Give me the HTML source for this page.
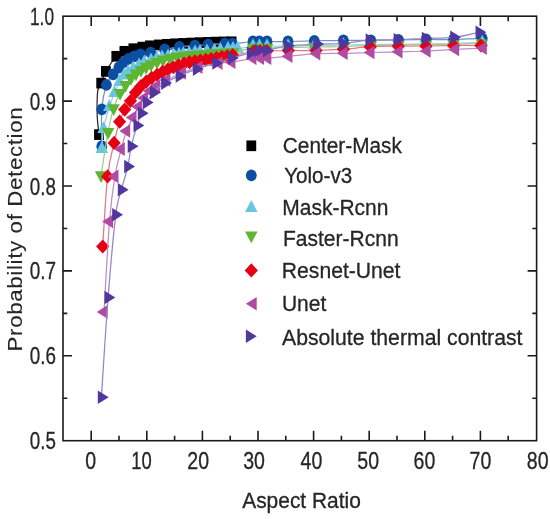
<!DOCTYPE html>
<html lang="en"><head><meta charset="utf-8"><title>Probability of Detection vs Aspect Ratio</title>
<style>html,body{margin:0;padding:0;background:#fff}svg{display:block;filter:blur(0.35px)}</style></head>
<body>
<svg width="550" height="519" viewBox="0 0 550 519" font-family="'Liberation Sans', Arial, sans-serif" fill="#222">
<rect width="550" height="519" fill="#fff"/>
<g id="s-black">
<path d="M99,134.6C98.72,131.83 97.62,123.27 97.3,118C96.98,112.73 97,107.67 97.1,103C97.2,98.33 97.22,93.32 97.9,90C98.58,86.68 99.87,86.2 101.2,83.1C102.53,80 103.38,75.87 105.9,71.4C108.42,66.93 113.22,59.65 116.3,56.3C119.38,52.95 121.55,52.57 124.4,51.3C127.25,50.03 130.42,49.4 133.4,48.7C136.38,48 139.55,47.58 142.3,47.1C145.05,46.62 147.13,46.17 149.9,45.8C152.67,45.43 156.05,45.15 158.9,44.9C161.75,44.65 164.28,44.48 167,44.29C169.72,44.11 172.47,43.94 175.2,43.79C177.93,43.64 180.67,43.52 183.4,43.39C186.13,43.26 188.87,43.13 191.6,43.01C194.33,42.89 197.07,42.77 199.8,42.66C202.53,42.55 205.3,42.44 208,42.35C210.7,42.25 213.33,42.17 216,42.1C218.67,42.02 221.4,41.96 224,41.91C226.6,41.86 230.33,41.82 231.6,41.8" fill="none" stroke="#2a2a2a" stroke-width="1.25"/>
<rect x="94.1" y="129.26" width="9.8" height="10.68" fill="#000000"/>
<rect x="96.3" y="77.76" width="9.8" height="10.68" fill="#000000"/>
<rect x="101" y="66.06" width="9.8" height="10.68" fill="#000000"/>
<rect x="111.4" y="50.96" width="9.8" height="10.68" fill="#000000"/>
<rect x="119.5" y="45.96" width="9.8" height="10.68" fill="#000000"/>
<rect x="128.5" y="43.36" width="9.8" height="10.68" fill="#000000"/>
<rect x="137.4" y="41.76" width="9.8" height="10.68" fill="#000000"/>
<rect x="145" y="40.46" width="9.8" height="10.68" fill="#000000"/>
<rect x="154" y="39.56" width="9.8" height="10.68" fill="#000000"/>
<rect x="162.1" y="38.95" width="9.8" height="10.68" fill="#000000"/>
<rect x="170.3" y="38.45" width="9.8" height="10.68" fill="#000000"/>
<rect x="178.5" y="38.05" width="9.8" height="10.68" fill="#000000"/>
<rect x="186.7" y="37.67" width="9.8" height="10.68" fill="#000000"/>
<rect x="194.9" y="37.31" width="9.8" height="10.68" fill="#000000"/>
<rect x="203.1" y="37.01" width="9.8" height="10.68" fill="#000000"/>
<rect x="211.1" y="36.76" width="9.8" height="10.68" fill="#000000"/>
<rect x="219.1" y="36.57" width="9.8" height="10.68" fill="#000000"/>
<rect x="226.7" y="36.46" width="9.8" height="10.68" fill="#000000"/>
</g>
<g id="s-blue">
<path d="M101.8,146.2C101.8,140.05 101.03,119.52 101.8,109.3C102.57,99.08 104.52,90.73 106.4,84.9C108.28,79.07 111.02,77.2 113.1,74.3C115.18,71.4 117.13,69.52 118.9,67.5C120.67,65.48 122.1,63.63 123.7,62.2C125.3,60.77 126.73,59.87 128.5,58.9C130.27,57.93 132.3,57.13 134.3,56.4C136.3,55.67 137.77,55.13 140.5,54.5C143.23,53.87 146.67,53.45 150.7,52.6C154.73,51.75 159.9,50.37 164.7,49.4C169.5,48.43 174.48,47.43 179.5,46.8C184.52,46.17 190.02,45.97 194.8,45.6C199.58,45.23 203.22,44.92 208.2,44.6C213.18,44.28 220.67,43.85 224.7,43.7C228.73,43.55 227.68,44.07 232.4,43.7C237.12,43.33 248.5,41.87 253,41.5C257.5,41.13 257.07,41.5 259.4,41.5C261.73,41.5 262.23,41.5 267,41.5C271.77,41.5 280.12,41.6 288,41.5C295.88,41.4 305.07,41.1 314.3,40.9C323.53,40.7 333.98,40.38 343.4,40.3C352.82,40.22 361.62,40.45 370.8,40.4C379.98,40.35 389.3,40.15 398.5,40C407.7,39.85 416.83,39.58 426,39.5C435.17,39.42 444.13,39.67 453.5,39.5C462.87,39.33 477.42,38.67 482.2,38.5" fill="none" stroke="#7390c8" stroke-width="1.25"/>
<ellipse cx="101.8" cy="146.2" rx="5.4" ry="5.89" fill="#0b4ea2"/>
<ellipse cx="101.8" cy="109.3" rx="5.4" ry="5.89" fill="#0b4ea2"/>
<ellipse cx="106.4" cy="84.9" rx="5.4" ry="5.89" fill="#0b4ea2"/>
<ellipse cx="113.1" cy="74.3" rx="5.4" ry="5.89" fill="#0b4ea2"/>
<ellipse cx="118.9" cy="67.5" rx="5.4" ry="5.89" fill="#0b4ea2"/>
<ellipse cx="123.7" cy="62.2" rx="5.4" ry="5.89" fill="#0b4ea2"/>
<ellipse cx="128.5" cy="58.9" rx="5.4" ry="5.89" fill="#0b4ea2"/>
<ellipse cx="134.3" cy="56.4" rx="5.4" ry="5.89" fill="#0b4ea2"/>
<ellipse cx="140.5" cy="54.5" rx="5.4" ry="5.89" fill="#0b4ea2"/>
<ellipse cx="150.7" cy="52.6" rx="5.4" ry="5.89" fill="#0b4ea2"/>
<ellipse cx="164.7" cy="49.4" rx="5.4" ry="5.89" fill="#0b4ea2"/>
<ellipse cx="179.5" cy="46.8" rx="5.4" ry="5.89" fill="#0b4ea2"/>
<ellipse cx="194.8" cy="45.6" rx="5.4" ry="5.89" fill="#0b4ea2"/>
<ellipse cx="208.2" cy="44.6" rx="5.4" ry="5.89" fill="#0b4ea2"/>
<ellipse cx="224.7" cy="43.7" rx="5.4" ry="5.89" fill="#0b4ea2"/>
<ellipse cx="232.4" cy="43.7" rx="5.4" ry="5.89" fill="#0b4ea2"/>
<ellipse cx="253" cy="41.5" rx="5.4" ry="5.89" fill="#0b4ea2"/>
<ellipse cx="259.4" cy="41.5" rx="5.4" ry="5.89" fill="#0b4ea2"/>
<ellipse cx="267" cy="41.5" rx="5.4" ry="5.89" fill="#0b4ea2"/>
<ellipse cx="288" cy="41.5" rx="5.4" ry="5.89" fill="#0b4ea2"/>
<ellipse cx="314.3" cy="40.9" rx="5.4" ry="5.89" fill="#0b4ea2"/>
<ellipse cx="343.4" cy="40.3" rx="5.4" ry="5.89" fill="#0b4ea2"/>
<ellipse cx="370.8" cy="40.4" rx="5.4" ry="5.89" fill="#0b4ea2"/>
<ellipse cx="398.5" cy="40" rx="5.4" ry="5.89" fill="#0b4ea2"/>
<ellipse cx="426" cy="39.5" rx="5.4" ry="5.89" fill="#0b4ea2"/>
<ellipse cx="453.5" cy="39.5" rx="5.4" ry="5.89" fill="#0b4ea2"/>
<ellipse cx="482.2" cy="38.5" rx="5.4" ry="5.89" fill="#0b4ea2"/>
</g>
<g id="s-cyan">
<path d="M101.8,149C102.08,145.68 102.25,136.1 103.5,129.1C104.75,122.1 107.47,113.02 109.3,107C111.13,100.98 112.8,97.17 114.5,93C116.2,88.83 117.92,84.92 119.5,82C121.08,79.08 122.6,77.13 124,75.5C125.4,73.87 126.37,73.4 127.9,72.2C129.43,71 131.35,69.43 133.2,68.3C135.05,67.17 137.15,66.4 139,65.4C140.85,64.4 142.3,63.13 144.3,62.3C146.3,61.47 148.92,61 151,60.4C153.08,59.8 154.95,59.22 156.8,58.7C158.65,58.18 160.23,57.7 162.1,57.3C163.97,56.9 166.08,56.62 168,56.32C169.92,56.02 171.77,55.8 173.6,55.5C175.43,55.2 177.37,54.81 179,54.53C180.63,54.25 181.73,54.04 183.4,53.8C185.07,53.56 187.07,53.31 189,53.08C190.93,52.85 193.17,52.61 195,52.41C196.83,52.21 198,52.09 200,51.9C202,51.71 204.58,51.5 207,51.28C209.42,51.06 212.28,50.85 214.5,50.6C216.72,50.35 218.05,50.06 220.3,49.78C222.55,49.5 225.88,49.07 228,48.9C230.12,48.73 231.42,48.79 233,48.75C234.58,48.72 234.17,49.13 237.5,48.7C240.83,48.27 249.35,46.62 253,46.2C256.65,45.78 257.07,46.2 259.4,46.2C261.73,46.2 262.23,46.2 267,46.2C271.77,46.2 280.12,46.3 288,46.2C295.88,46.1 305.07,45.8 314.3,45.6C323.53,45.4 333.98,45.17 343.4,45C352.82,44.83 361.62,44.72 370.8,44.6C379.98,44.48 389.3,44.4 398.5,44.3C407.7,44.2 416.83,44.12 426,44C435.17,43.88 444.13,43.85 453.5,43.6C462.87,43.35 477.42,42.68 482.2,42.5" fill="none" stroke="#9fd0e2" stroke-width="1.25"/>
<polygon points="101.8,141.13 95.55,152.93 108.05,152.93" fill="#6cc5de"/>
<polygon points="103.5,121.23 97.25,133.03 109.75,133.03" fill="#6cc5de"/>
<polygon points="109.3,99.13 103.05,110.93 115.55,110.93" fill="#6cc5de"/>
<polygon points="114.5,85.13 108.25,96.93 120.75,96.93" fill="#6cc5de"/>
<polygon points="119.5,74.13 113.25,85.93 125.75,85.93" fill="#6cc5de"/>
<polygon points="124,67.63 117.75,79.43 130.25,79.43" fill="#6cc5de"/>
<polygon points="127.9,64.33 121.65,76.13 134.15,76.13" fill="#6cc5de"/>
<polygon points="133.2,60.43 126.95,72.23 139.45,72.23" fill="#6cc5de"/>
<polygon points="139,57.53 132.75,69.33 145.25,69.33" fill="#6cc5de"/>
<polygon points="144.3,54.43 138.05,66.23 150.55,66.23" fill="#6cc5de"/>
<polygon points="151,52.53 144.75,64.33 157.25,64.33" fill="#6cc5de"/>
<polygon points="156.8,50.83 150.55,62.63 163.05,62.63" fill="#6cc5de"/>
<polygon points="162.1,49.43 155.85,61.23 168.35,61.23" fill="#6cc5de"/>
<polygon points="168,48.46 161.75,60.26 174.25,60.26" fill="#6cc5de"/>
<polygon points="173.6,47.63 167.35,59.43 179.85,59.43" fill="#6cc5de"/>
<polygon points="179,46.66 172.75,58.46 185.25,58.46" fill="#6cc5de"/>
<polygon points="183.4,45.93 177.15,57.73 189.65,57.73" fill="#6cc5de"/>
<polygon points="189,45.21 182.75,57.01 195.25,57.01" fill="#6cc5de"/>
<polygon points="195,44.54 188.75,56.34 201.25,56.34" fill="#6cc5de"/>
<polygon points="200,44.03 193.75,55.83 206.25,55.83" fill="#6cc5de"/>
<polygon points="207,43.41 200.75,55.21 213.25,55.21" fill="#6cc5de"/>
<polygon points="214.5,42.73 208.25,54.53 220.75,54.53" fill="#6cc5de"/>
<polygon points="220.3,41.91 214.05,53.71 226.55,53.71" fill="#6cc5de"/>
<polygon points="228,41.03 221.75,52.83 234.25,52.83" fill="#6cc5de"/>
<polygon points="233,40.89 226.75,52.69 239.25,52.69" fill="#6cc5de"/>
<polygon points="237.5,40.83 231.25,52.63 243.75,52.63" fill="#6cc5de"/>
<polygon points="253,38.33 246.75,50.13 259.25,50.13" fill="#6cc5de"/>
<polygon points="259.4,38.33 253.15,50.13 265.65,50.13" fill="#6cc5de"/>
<polygon points="267,38.33 260.75,50.13 273.25,50.13" fill="#6cc5de"/>
<polygon points="288,38.33 281.75,50.13 294.25,50.13" fill="#6cc5de"/>
<polygon points="314.3,37.73 308.05,49.53 320.55,49.53" fill="#6cc5de"/>
<polygon points="343.4,37.13 337.15,48.93 349.65,48.93" fill="#6cc5de"/>
<polygon points="370.8,36.73 364.55,48.53 377.05,48.53" fill="#6cc5de"/>
<polygon points="398.5,36.43 392.25,48.23 404.75,48.23" fill="#6cc5de"/>
<polygon points="426,36.13 419.75,47.93 432.25,47.93" fill="#6cc5de"/>
<polygon points="453.5,35.73 447.25,47.53 459.75,47.53" fill="#6cc5de"/>
<polygon points="482.2,34.63 475.95,46.43 488.45,46.43" fill="#6cc5de"/>
</g>
<g id="s-green">
<path d="M101.1,175.1C102.27,167.92 106.02,143.17 108.1,132C110.18,120.83 111.6,114.6 113.6,108.1C115.6,101.6 118.12,96.85 120.1,93C122.08,89.15 123.68,87.5 125.5,85C127.32,82.5 129.25,79.93 131,78C132.75,76.07 134.33,74.75 136,73.4C137.67,72.04 139.33,70.96 141,69.88C142.67,68.79 144.33,67.79 146,66.87C147.67,65.94 149.17,65.17 151,64.33C152.83,63.49 155,62.59 157,61.83C159,61.07 160.83,60.41 163,59.77C165.17,59.13 167.67,58.47 170,57.96C172.33,57.45 174.67,57.06 177,56.7C179.33,56.33 181.67,56.05 184,55.76C186.33,55.48 188.67,55.23 191,55C193.33,54.77 195.67,54.56 198,54.36C200.33,54.16 202.67,53.99 205,53.81C207.33,53.63 209.67,53.46 212,53.3C214.33,53.14 216.67,52.98 219,52.85C221.33,52.71 223.67,52.58 226,52.47C228.33,52.37 228.5,52.98 233,52.2C237.5,51.42 248.6,48.53 253,47.8C257.4,47.07 257.07,47.8 259.4,47.8C261.73,47.8 262.23,47.83 267,47.8C271.77,47.77 280.12,47.73 288,47.6C295.88,47.47 305.07,47.18 314.3,47C323.53,46.82 333.98,46.75 343.4,46.5C352.82,46.25 361.62,45.75 370.8,45.5C379.98,45.25 389.3,45.15 398.5,45C407.7,44.85 416.83,44.73 426,44.6C435.17,44.47 444.2,44.38 453.5,44.2C462.8,44.02 477.08,43.62 481.8,43.5" fill="none" stroke="#9ccf86" stroke-width="1.25"/>
<polygon points="101.1,182.97 94.85,171.17 107.35,171.17" fill="#5db531"/>
<polygon points="108.1,139.87 101.85,128.07 114.35,128.07" fill="#5db531"/>
<polygon points="113.6,115.97 107.35,104.17 119.85,104.17" fill="#5db531"/>
<polygon points="120.1,100.87 113.85,89.07 126.35,89.07" fill="#5db531"/>
<polygon points="125.5,92.87 119.25,81.07 131.75,81.07" fill="#5db531"/>
<polygon points="131,85.87 124.75,74.07 137.25,74.07" fill="#5db531"/>
<polygon points="136,81.26 129.75,69.47 142.25,69.47" fill="#5db531"/>
<polygon points="141,77.74 134.75,65.94 147.25,65.94" fill="#5db531"/>
<polygon points="146,74.74 139.75,62.94 152.25,62.94" fill="#5db531"/>
<polygon points="151,72.19 144.75,60.39 157.25,60.39" fill="#5db531"/>
<polygon points="157,69.69 150.75,57.9 163.25,57.9" fill="#5db531"/>
<polygon points="163,67.64 156.75,55.84 169.25,55.84" fill="#5db531"/>
<polygon points="170,65.83 163.75,54.03 176.25,54.03" fill="#5db531"/>
<polygon points="177,64.56 170.75,52.76 183.25,52.76" fill="#5db531"/>
<polygon points="184,63.63 177.75,51.83 190.25,51.83" fill="#5db531"/>
<polygon points="191,62.86 184.75,51.07 197.25,51.07" fill="#5db531"/>
<polygon points="198,62.23 191.75,50.43 204.25,50.43" fill="#5db531"/>
<polygon points="205,61.68 198.75,49.88 211.25,49.88" fill="#5db531"/>
<polygon points="212,61.16 205.75,49.37 218.25,49.37" fill="#5db531"/>
<polygon points="219,60.71 212.75,48.91 225.25,48.91" fill="#5db531"/>
<polygon points="226,60.34 219.75,48.54 232.25,48.54" fill="#5db531"/>
<polygon points="233,60.07 226.75,48.27 239.25,48.27" fill="#5db531"/>
<polygon points="253,55.67 246.75,43.87 259.25,43.87" fill="#5db531"/>
<polygon points="259.4,55.67 253.15,43.87 265.65,43.87" fill="#5db531"/>
<polygon points="267,55.67 260.75,43.87 273.25,43.87" fill="#5db531"/>
<polygon points="288,55.47 281.75,43.67 294.25,43.67" fill="#5db531"/>
<polygon points="314.3,54.87 308.05,43.07 320.55,43.07" fill="#5db531"/>
<polygon points="343.4,54.37 337.15,42.57 349.65,42.57" fill="#5db531"/>
<polygon points="370.8,53.37 364.55,41.57 377.05,41.57" fill="#5db531"/>
<polygon points="398.5,52.87 392.25,41.07 404.75,41.07" fill="#5db531"/>
<polygon points="426,52.47 419.75,40.67 432.25,40.67" fill="#5db531"/>
<polygon points="453.5,52.07 447.25,40.27 459.75,40.27" fill="#5db531"/>
<polygon points="481.8,51.37 475.55,39.57 488.05,39.57" fill="#5db531"/>
</g>
<g id="s-red">
<path d="M102.7,246.5C103.52,234.82 105.7,193.67 107.6,176.4C109.5,159.13 112.1,152.02 114.1,142.9C116.1,133.78 117.83,127.25 119.6,121.7C121.37,116.15 122.88,113.05 124.7,109.6C126.52,106.15 128.7,103.86 130.5,101C132.3,98.14 133.77,94.93 135.5,92.45C137.23,89.97 139.1,87.95 140.9,86.14C142.7,84.32 144.5,82.95 146.3,81.56C148.1,80.18 149.9,78.98 151.7,77.84C153.5,76.71 155.3,75.74 157.1,74.76C158.9,73.78 160.7,72.85 162.5,71.96C164.3,71.07 166.1,70.21 167.9,69.43C169.7,68.64 171.5,67.93 173.3,67.25C175.1,66.57 176.9,65.96 178.7,65.33C180.5,64.71 182.3,64.02 184.1,63.49C185.9,62.96 187.7,62.51 189.5,62.15C191.3,61.78 193.1,61.55 194.9,61.3C196.7,61.05 198.5,60.86 200.3,60.63C202.1,60.41 203.9,60.21 205.7,59.95C207.5,59.69 209.3,59.38 211.1,59.07C212.9,58.75 214.7,58.39 216.5,58.06C218.3,57.72 220.1,57.39 221.9,57.07C223.7,56.75 225.5,56.44 227.3,56.13C229.1,55.82 228.32,55.99 232.7,55.22C237.08,54.44 249.05,52.15 253.6,51.5C258.15,50.85 257.77,51.38 260,51.3C262.23,51.22 262.28,51.13 267,51C271.72,50.87 280.13,50.58 288.3,50.5C296.47,50.42 306.82,50.72 316,50.5C325.18,50.28 334.37,49.83 343.4,49.2C352.43,48.57 361.07,47.22 370.2,46.7C379.33,46.18 388.9,46.22 398.2,46.1C407.5,45.98 416.78,46.1 426,46C435.22,45.9 444.35,45.58 453.5,45.5C462.65,45.42 476.33,45.5 480.9,45.5" fill="none" stroke="#e27882" stroke-width="1.25"/>
<polygon points="96.1,246.5 102.7,239.4 109.3,246.5 102.7,253.6" fill="#e60012"/>
<polygon points="101,176.4 107.6,169.3 114.2,176.4 107.6,183.5" fill="#e60012"/>
<polygon points="107.5,142.9 114.1,135.8 120.7,142.9 114.1,150" fill="#e60012"/>
<polygon points="113,121.7 119.6,114.6 126.2,121.7 119.6,128.8" fill="#e60012"/>
<polygon points="118.1,109.6 124.7,102.5 131.3,109.6 124.7,116.7" fill="#e60012"/>
<polygon points="123.9,101 130.5,93.9 137.1,101 130.5,108.1" fill="#e60012"/>
<polygon points="128.9,92.45 135.5,85.35 142.1,92.45 135.5,99.55" fill="#e60012"/>
<polygon points="134.3,86.14 140.9,79.04 147.5,86.14 140.9,93.24" fill="#e60012"/>
<polygon points="139.7,81.56 146.3,74.46 152.9,81.56 146.3,88.66" fill="#e60012"/>
<polygon points="145.1,77.84 151.7,70.74 158.3,77.84 151.7,84.94" fill="#e60012"/>
<polygon points="150.5,74.76 157.1,67.66 163.7,74.76 157.1,81.86" fill="#e60012"/>
<polygon points="155.9,71.96 162.5,64.86 169.1,71.96 162.5,79.06" fill="#e60012"/>
<polygon points="161.3,69.43 167.9,62.33 174.5,69.43 167.9,76.53" fill="#e60012"/>
<polygon points="166.7,67.25 173.3,60.15 179.9,67.25 173.3,74.35" fill="#e60012"/>
<polygon points="172.1,65.33 178.7,58.23 185.3,65.33 178.7,72.43" fill="#e60012"/>
<polygon points="177.5,63.49 184.1,56.39 190.7,63.49 184.1,70.59" fill="#e60012"/>
<polygon points="182.9,62.15 189.5,55.05 196.1,62.15 189.5,69.25" fill="#e60012"/>
<polygon points="188.3,61.3 194.9,54.2 201.5,61.3 194.9,68.4" fill="#e60012"/>
<polygon points="193.7,60.63 200.3,53.53 206.9,60.63 200.3,67.73" fill="#e60012"/>
<polygon points="199.1,59.95 205.7,52.85 212.3,59.95 205.7,67.05" fill="#e60012"/>
<polygon points="204.5,59.07 211.1,51.97 217.7,59.07 211.1,66.17" fill="#e60012"/>
<polygon points="209.9,58.06 216.5,50.96 223.1,58.06 216.5,65.16" fill="#e60012"/>
<polygon points="215.3,57.07 221.9,49.97 228.5,57.07 221.9,64.17" fill="#e60012"/>
<polygon points="220.7,56.13 227.3,49.03 233.9,56.13 227.3,63.23" fill="#e60012"/>
<polygon points="226.1,55.22 232.7,48.12 239.3,55.22 232.7,62.32" fill="#e60012"/>
<polygon points="247,51.5 253.6,44.4 260.2,51.5 253.6,58.6" fill="#e60012"/>
<polygon points="253.4,51.3 260,44.2 266.6,51.3 260,58.4" fill="#e60012"/>
<polygon points="260.4,51 267,43.9 273.6,51 267,58.1" fill="#e60012"/>
<polygon points="281.7,50.5 288.3,43.4 294.9,50.5 288.3,57.6" fill="#e60012"/>
<polygon points="309.4,50.5 316,43.4 322.6,50.5 316,57.6" fill="#e60012"/>
<polygon points="336.8,49.2 343.4,42.1 350,49.2 343.4,56.3" fill="#e60012"/>
<polygon points="363.6,46.7 370.2,39.6 376.8,46.7 370.2,53.8" fill="#e60012"/>
<polygon points="391.6,46.1 398.2,39 404.8,46.1 398.2,53.2" fill="#e60012"/>
<polygon points="419.4,46 426,38.9 432.6,46 426,53.1" fill="#e60012"/>
<polygon points="446.9,45.5 453.5,38.4 460.1,45.5 453.5,52.6" fill="#e60012"/>
<polygon points="474.3,45.5 480.9,38.4 487.5,45.5 480.9,52.6" fill="#e60012"/>
</g>
<g id="s-magenta">
<path d="M104,311.9C104.92,296.82 107.68,243.98 109.5,221.4C111.32,198.82 112.95,188.45 114.9,176.4C116.85,164.35 119.25,156.67 121.2,149.1C123.15,141.53 124.65,136.28 126.6,131C128.55,125.72 130.92,121.43 132.9,117.4C134.88,113.37 136.6,110.02 138.5,106.8C140.4,103.58 142.38,100.73 144.3,98.1C146.22,95.47 147.95,93.02 150,91C152.05,88.98 153.82,87.83 156.6,86C159.38,84.17 162.42,82.17 166.7,80C170.98,77.83 176.93,75.13 182.3,73C187.67,70.87 192.8,68.85 198.9,67.2C205,65.55 213.42,63.93 218.9,63.1C224.38,62.27 226.15,63 231.8,62.2C237.45,61.4 248.03,58.95 252.8,58.3C257.57,57.65 257.92,58.3 260.4,58.3C262.88,58.3 262.97,58.65 267.7,58.3C272.43,57.95 280.63,56.98 288.8,56.2C296.97,55.42 307.5,54.08 316.7,53.6C325.9,53.12 334.97,53.48 344,53.3C353.03,53.12 361.75,52.75 370.9,52.5C380.05,52.25 389.55,52.05 398.9,51.8C408.25,51.55 417.57,51.4 427,51C436.43,50.6 446.13,49.88 455.5,49.4C464.87,48.92 478.58,48.32 483.2,48.1" fill="none" stroke="#bf8cc6" stroke-width="1.25"/>
<polygon points="96.78,311.9 107.61,305.09 107.61,318.71" fill="#b04aa3"/>
<polygon points="102.28,221.4 113.11,214.59 113.11,228.21" fill="#b04aa3"/>
<polygon points="107.68,176.4 118.51,169.59 118.51,183.21" fill="#b04aa3"/>
<polygon points="113.98,149.1 124.81,142.29 124.81,155.91" fill="#b04aa3"/>
<polygon points="119.38,131 130.21,124.19 130.21,137.81" fill="#b04aa3"/>
<polygon points="125.68,117.4 136.51,110.59 136.51,124.21" fill="#b04aa3"/>
<polygon points="131.28,106.8 142.11,99.99 142.11,113.61" fill="#b04aa3"/>
<polygon points="137.08,98.1 147.91,91.29 147.91,104.91" fill="#b04aa3"/>
<polygon points="142.78,91 153.61,84.19 153.61,97.81" fill="#b04aa3"/>
<polygon points="149.38,86 160.21,79.19 160.21,92.81" fill="#b04aa3"/>
<polygon points="159.48,80 170.31,73.19 170.31,86.81" fill="#b04aa3"/>
<polygon points="175.08,73 185.91,66.19 185.91,79.81" fill="#b04aa3"/>
<polygon points="191.68,67.2 202.51,60.39 202.51,74.01" fill="#b04aa3"/>
<polygon points="211.68,63.1 222.51,56.29 222.51,69.91" fill="#b04aa3"/>
<polygon points="224.58,62.2 235.41,55.39 235.41,69.01" fill="#b04aa3"/>
<polygon points="245.58,58.3 256.41,51.49 256.41,65.11" fill="#b04aa3"/>
<polygon points="253.18,58.3 264.01,51.49 264.01,65.11" fill="#b04aa3"/>
<polygon points="260.48,58.3 271.31,51.49 271.31,65.11" fill="#b04aa3"/>
<polygon points="281.58,56.2 292.41,49.39 292.41,63.01" fill="#b04aa3"/>
<polygon points="309.48,53.6 320.31,46.79 320.31,60.41" fill="#b04aa3"/>
<polygon points="336.78,53.3 347.61,46.49 347.61,60.11" fill="#b04aa3"/>
<polygon points="363.68,52.5 374.51,45.69 374.51,59.31" fill="#b04aa3"/>
<polygon points="391.68,51.8 402.51,44.99 402.51,58.61" fill="#b04aa3"/>
<polygon points="419.78,51 430.61,44.19 430.61,57.81" fill="#b04aa3"/>
<polygon points="448.28,49.4 459.11,42.59 459.11,56.21" fill="#b04aa3"/>
<polygon points="475.98,48.1 486.81,41.29 486.81,54.91" fill="#b04aa3"/>
</g>
<g id="s-purple">
<path d="M101.4,397.2C102.52,380.58 105.7,327.92 108.1,297.5C110.5,267.08 113.58,232.65 115.8,214.7C118.02,196.75 119.4,197.83 121.4,189.8C123.4,181.77 126.15,173.77 127.8,166.5C129.45,159.23 129.75,153.03 131.3,146.2C132.85,139.37 135.42,131 137.1,125.5C138.78,120 139.85,117.05 141.4,113.2C142.95,109.35 144.37,105.87 146.4,102.4C148.43,98.93 150.53,95.62 153.6,92.4C156.67,89.18 160.52,85.83 164.8,83.1C169.08,80.37 174.02,78.33 179.3,76C184.58,73.67 190.4,71.27 196.5,69.1C202.6,66.93 210.05,64.85 215.9,63C221.75,61.15 225.85,59.67 231.6,58C237.35,56.33 245.95,54.25 250.4,53C254.85,51.75 255.6,50.92 258.3,50.5C261,50.08 261.72,51.25 266.6,50.5C271.48,49.75 279.23,47.07 287.6,46C295.97,44.93 307.58,44.52 316.8,44.1C326.02,43.68 334.15,44.17 342.9,43.5C351.65,42.83 360.23,40.73 369.3,40.1C378.37,39.47 387.93,39.97 397.3,39.7C406.67,39.43 416.08,38.9 425.5,38.5C434.92,38.1 444.85,38.35 453.8,37.3C462.75,36.25 474.97,33.05 479.2,32.2" fill="none" stroke="#8f88c6" stroke-width="1.25"/>
<polygon points="108.62,397.2 97.79,390.39 97.79,404.01" fill="#5236a0"/>
<polygon points="115.32,297.5 104.49,290.69 104.49,304.31" fill="#5236a0"/>
<polygon points="123.02,214.7 112.19,207.89 112.19,221.51" fill="#5236a0"/>
<polygon points="128.62,189.8 117.79,182.99 117.79,196.61" fill="#5236a0"/>
<polygon points="135.02,166.5 124.19,159.69 124.19,173.31" fill="#5236a0"/>
<polygon points="138.52,146.2 127.69,139.39 127.69,153.01" fill="#5236a0"/>
<polygon points="144.32,125.5 133.49,118.69 133.49,132.31" fill="#5236a0"/>
<polygon points="148.62,113.2 137.79,106.39 137.79,120.01" fill="#5236a0"/>
<polygon points="153.62,102.4 142.79,95.59 142.79,109.21" fill="#5236a0"/>
<polygon points="160.82,92.4 149.99,85.59 149.99,99.21" fill="#5236a0"/>
<polygon points="172.02,83.1 161.19,76.29 161.19,89.91" fill="#5236a0"/>
<polygon points="186.52,76 175.69,69.19 175.69,82.81" fill="#5236a0"/>
<polygon points="203.72,69.1 192.89,62.29 192.89,75.91" fill="#5236a0"/>
<polygon points="223.12,63 212.29,56.19 212.29,69.81" fill="#5236a0"/>
<polygon points="238.82,58 227.99,51.19 227.99,64.81" fill="#5236a0"/>
<polygon points="257.62,53 246.79,46.19 246.79,59.81" fill="#5236a0"/>
<polygon points="265.52,50.5 254.69,43.69 254.69,57.31" fill="#5236a0"/>
<polygon points="273.82,50.5 262.99,43.69 262.99,57.31" fill="#5236a0"/>
<polygon points="294.82,46 283.99,39.19 283.99,52.81" fill="#5236a0"/>
<polygon points="324.02,44.1 313.19,37.29 313.19,50.91" fill="#5236a0"/>
<polygon points="350.12,43.5 339.29,36.69 339.29,50.31" fill="#5236a0"/>
<polygon points="376.52,40.1 365.69,33.29 365.69,46.91" fill="#5236a0"/>
<polygon points="404.52,39.7 393.69,32.89 393.69,46.51" fill="#5236a0"/>
<polygon points="432.72,38.5 421.89,31.69 421.89,45.31" fill="#5236a0"/>
<polygon points="461.02,37.3 450.19,30.49 450.19,44.11" fill="#5236a0"/>
<polygon points="486.42,32.2 475.59,25.39 475.59,39.01" fill="#5236a0"/>
</g>
<g stroke="#1a1a1a" stroke-width="1.6" fill="none" stroke-linecap="butt">
<rect x="63.0" y="16.2" width="473.6" height="424.5"/>
<path d="M91.2,440.7v-9.9M91.2,16.2v9.9"/>
<path d="M119,440.7v-5.0M119,16.2v5.0"/>
<path d="M146.8,440.7v-9.9M146.8,16.2v9.9"/>
<path d="M174.6,440.7v-5.0M174.6,16.2v5.0"/>
<path d="M202.4,440.7v-9.9M202.4,16.2v9.9"/>
<path d="M230.2,440.7v-5.0M230.2,16.2v5.0"/>
<path d="M258,440.7v-9.9M258,16.2v9.9"/>
<path d="M285.8,440.7v-5.0M285.8,16.2v5.0"/>
<path d="M313.6,440.7v-9.9M313.6,16.2v9.9"/>
<path d="M341.4,440.7v-5.0M341.4,16.2v5.0"/>
<path d="M369.2,440.7v-9.9M369.2,16.2v9.9"/>
<path d="M397,440.7v-5.0M397,16.2v5.0"/>
<path d="M424.8,440.7v-9.9M424.8,16.2v9.9"/>
<path d="M452.6,440.7v-5.0M452.6,16.2v5.0"/>
<path d="M480.4,440.7v-9.9M480.4,16.2v9.9"/>
<path d="M508.2,440.7v-5.0M508.2,16.2v5.0"/>
<path d="M63.0,398.25h4.3M536.6,398.25h-4.3"/>
<path d="M63.0,355.8h9.0M536.6,355.8h-9.0"/>
<path d="M63.0,313.35h4.3M536.6,313.35h-4.3"/>
<path d="M63.0,270.9h9.0M536.6,270.9h-9.0"/>
<path d="M63.0,228.45h4.3M536.6,228.45h-4.3"/>
<path d="M63.0,186h9.0M536.6,186h-9.0"/>
<path d="M63.0,143.55h4.3M536.6,143.55h-4.3"/>
<path d="M63.0,101.1h9.0M536.6,101.1h-9.0"/>
<path d="M63.0,58.65h4.3M536.6,58.65h-4.3"/>
</g>
<g fill="#262626" stroke="#262626" stroke-width="0.3">
<text x="85.27" y="469.3" font-size="24.0" textLength="10.88" lengthAdjust="spacingAndGlyphs">0</text>
<text x="131.32" y="469.3" font-size="24.0" textLength="20.46" lengthAdjust="spacingAndGlyphs">10</text>
<text x="187.25" y="469.3" font-size="24.0" textLength="21.76" lengthAdjust="spacingAndGlyphs">20</text>
<text x="243.24" y="469.3" font-size="24.0" textLength="21.76" lengthAdjust="spacingAndGlyphs">30</text>
<text x="300.59" y="469.3" font-size="24.0" textLength="21.76" lengthAdjust="spacingAndGlyphs">40</text>
<text x="357.34" y="469.3" font-size="24.0" textLength="21.76" lengthAdjust="spacingAndGlyphs">50</text>
<text x="413.55" y="469.3" font-size="24.0" textLength="21.76" lengthAdjust="spacingAndGlyphs">60</text>
<text x="469.55" y="469.3" font-size="24.0" textLength="21.76" lengthAdjust="spacingAndGlyphs">70</text>
<text x="526.8" y="469.3" font-size="24.0" textLength="21.76" lengthAdjust="spacingAndGlyphs">80</text>
<text x="29.75" y="449.2" font-size="24.0" textLength="26.11" lengthAdjust="spacingAndGlyphs">0.5</text>
<text x="29.75" y="364.3" font-size="24.0" textLength="26.21" lengthAdjust="spacingAndGlyphs">0.6</text>
<text x="29.74" y="279.4" font-size="24.0" textLength="26.31" lengthAdjust="spacingAndGlyphs">0.7</text>
<text x="29.75" y="194.5" font-size="24.0" textLength="26.11" lengthAdjust="spacingAndGlyphs">0.8</text>
<text x="29.75" y="109.6" font-size="24.0" textLength="26.21" lengthAdjust="spacingAndGlyphs">0.9</text>
<text x="30.01" y="24.7" font-size="24.0" textLength="23.99" lengthAdjust="spacingAndGlyphs">1.0</text>
<text x="242.2" y="507.6" font-size="21.6" textLength="118.63" lengthAdjust="spacingAndGlyphs">Aspect Ratio</text>
<text transform="translate(22.2,351.4) rotate(-90) scale(1.08,1)" font-size="20.6" stroke-width="0.1" textLength="225.93" lengthAdjust="spacing">Probability of Detection</text>
<text x="282.86" y="153.1" font-size="22.0" textLength="118.91" lengthAdjust="spacingAndGlyphs">Center-Mask</text>
<text x="284.18" y="182.5" font-size="22.0" textLength="68.12" lengthAdjust="spacingAndGlyphs">Yolo-v3</text>
<text x="282.22" y="214.8" font-size="22.0" textLength="106.18" lengthAdjust="spacingAndGlyphs">Mask-Rcnn</text>
<text x="283.02" y="245.7" font-size="22.0" textLength="115.58" lengthAdjust="spacingAndGlyphs">Faster-Rcnn</text>
<text x="281.81" y="277.8" font-size="22.0" textLength="118.68" lengthAdjust="spacingAndGlyphs">Resnet-Unet</text>
<text x="281.93" y="311.3" font-size="22.0" textLength="44.33" lengthAdjust="spacingAndGlyphs">Unet</text>
<text x="281.99" y="344.8" font-size="22.0" textLength="240.5" lengthAdjust="spacingAndGlyphs">Absolute thermal contrast</text>
</g>
<rect x="246.4" y="140.46" width="9.8" height="10.68" fill="#000000"/>
<ellipse cx="251.3" cy="175.3" rx="5.4" ry="5.89" fill="#0b4ea2"/>
<polygon points="251.3,200.1 245.05,211.9 257.55,211.9" fill="#6cc5de"/>
<polygon points="251.3,243.2 245.05,231.4 257.55,231.4" fill="#5db531"/>
<polygon points="244.7,270.4 251.3,263.3 257.9,270.4 251.3,277.5" fill="#e60012"/>
<polygon points="245.89,303.8 256.71,296.99 256.71,310.61" fill="#b04aa3"/>
<polygon points="256.71,336.3 245.89,329.49 245.89,343.11" fill="#5236a0"/>
</svg>
</body></html>
